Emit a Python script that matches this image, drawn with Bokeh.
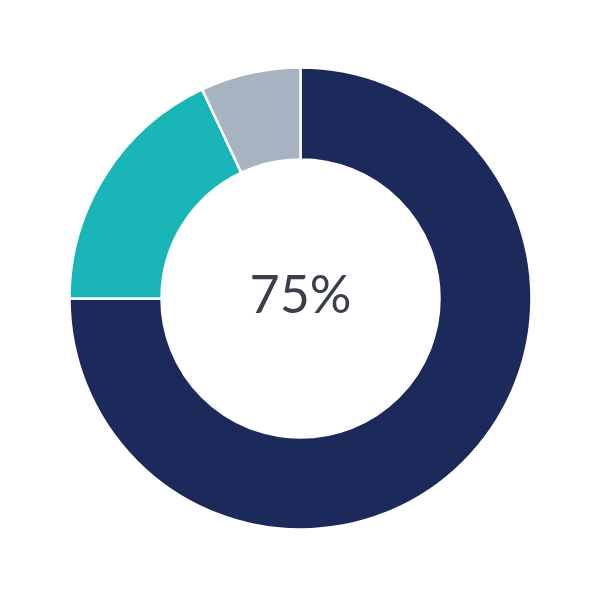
import numpy as np
from bokeh.plotting import figure
from bokeh.models import ColumnDataSource, Range1d
from bokeh.core.properties import value
from bokeh.embed import file_html
from bokeh.resources import INLINE

labels = ["A", "B", "C"]
values = [75, 18, 7]
colors = ["#1b2a5a", "#1ab5b7", "#a8b3c1"]
center_label = "75%"

W, H = 584, 583
cx, cy = 300, H - 298
R_out, R_in = 231, 139

fracs = np.array(values, dtype=float) / sum(values)
# start at top, clockwise
ends_cum = np.cumsum(fracs)
starts_cum = ends_cum - fracs
start_angle = np.pi / 2 - ends_cum * 2 * np.pi
end_angle = np.pi / 2 - starts_cum * 2 * np.pi

src = ColumnDataSource(dict(label=labels, start=start_angle, end=end_angle, color=colors))

p = figure(width=W, height=H, output_backend="svg", toolbar_location=None,
           x_range=Range1d(0, W), y_range=Range1d(0, H), min_border=0)
p.axis.visible = False
p.grid.visible = False
p.outline_line_color = None
p.background_fill_color = "white"

p.annular_wedge(x=cx, y=cy, inner_radius=R_in, outer_radius=R_out,
                start_angle="start", end_angle="end", fill_color="color",
                line_color="white", line_width=2.5, source=src,
                inner_radius_units="screen", outer_radius_units="screen")

p.text(x=[cx], y=[H - 292], text=[center_label], text_align="center", text_baseline="middle",
       text_font=value("Lato"), text_font_size="52px", text_color="#3a3f4b")

open("out.html", "w").write(file_html(p, INLINE))
